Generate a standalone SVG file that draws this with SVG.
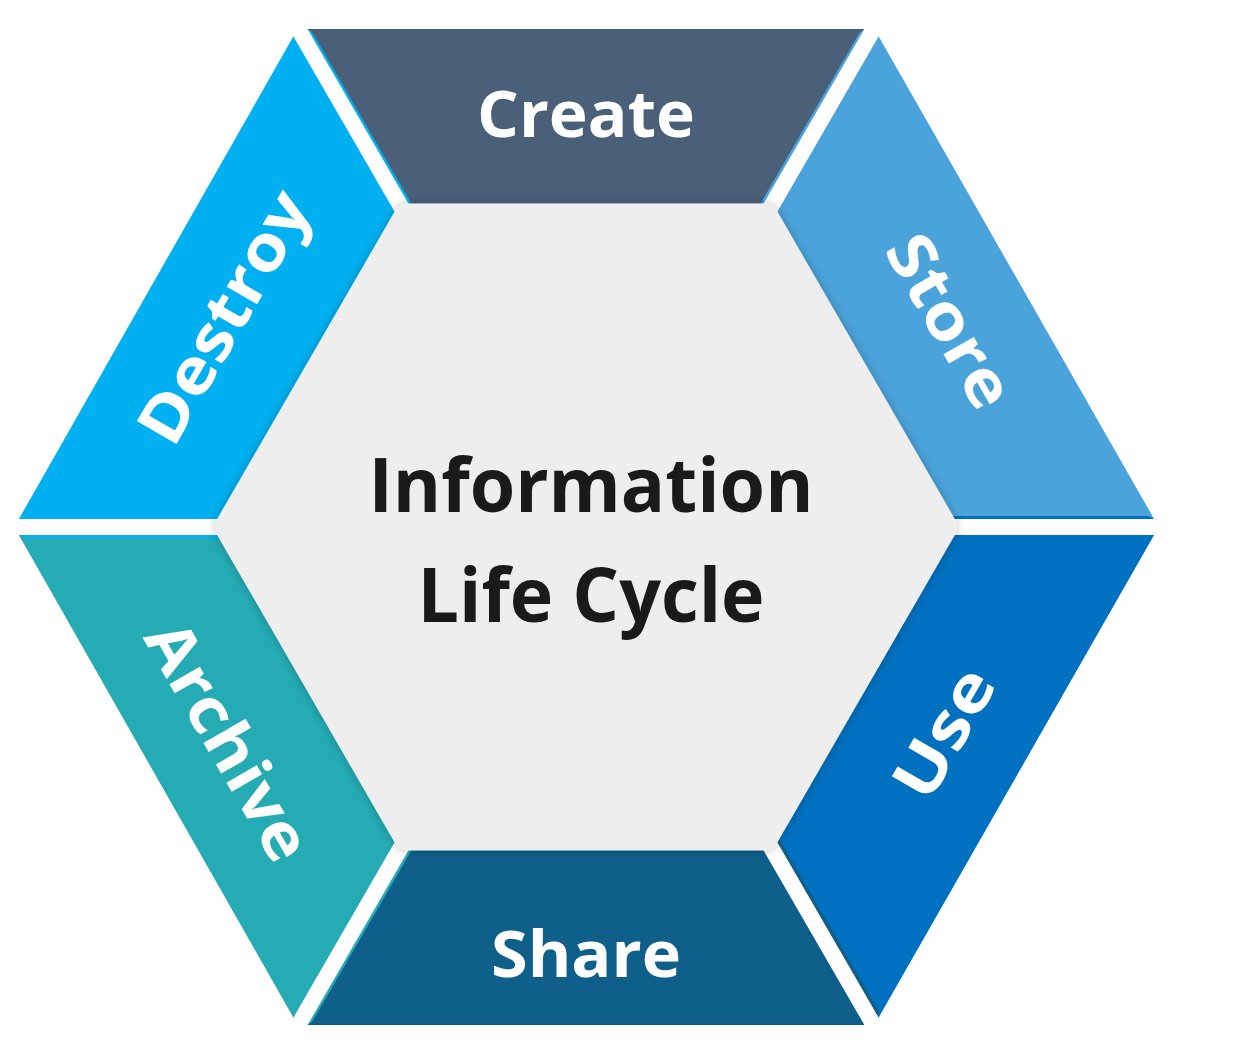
<svg xmlns="http://www.w3.org/2000/svg" width="1242" height="1054" viewBox="0 0 1242 1054">
<defs>
<style>
.seg{stroke-width:22;stroke-linejoin:round}
.lbl{font-family:"Open Sans","Liberation Sans",sans-serif;font-weight:bold;fill:#fff;font-size:64px;text-anchor:middle;dominant-baseline:central}
.ctr{font-family:"Open Sans","Liberation Sans",sans-serif;font-weight:bold;fill:#1a1a1a;font-size:76px;text-anchor:middle}
</style>
<filter id="sh" x="-20%" y="-20%" width="140%" height="140%"><feDropShadow dx="0" dy="0" stdDeviation="5" flood-color="#000" flood-opacity="0.25"/></filter>
</defs>
<rect width="1242" height="1054" fill="#fff"/>
<g id="create"><polygon class="seg" fill="#4A6079" stroke="#4A6079" points="586,527 868,40 304,40"/><text class="lbl" x="586" y="112" textLength="218" lengthAdjust="spacingAndGlyphs">Create</text></g>
<g id="store"><polygon class="seg" fill="#4AA3DA" stroke="#4AA3DA" points="586,527 1146,527 868,40"/><text class="lbl" transform="translate(952,320) rotate(60)" textLength="190" lengthAdjust="spacingAndGlyphs">Store</text></g>
<g id="use"><polygon class="seg" fill="#0070C0" stroke="#0070C0" points="586,527 868,1014 1146,527"/><text class="lbl" transform="translate(942,732) rotate(-60)" textLength="140" lengthAdjust="spacingAndGlyphs">Use</text></g>
<g id="share"><polygon class="seg" fill="#0E5F8A" stroke="#0E5F8A" points="586,527 304,1014 868,1014"/><text class="lbl" x="586" y="952" textLength="190" lengthAdjust="spacingAndGlyphs">Share</text></g>
<g id="archive"><polygon class="seg" fill="#24ABB3" stroke="#24ABB3" points="586,527 27,527 304,1014"/><text class="lbl" transform="translate(230,740) rotate(60)" textLength="265" lengthAdjust="spacingAndGlyphs">Archive</text></g>
<g id="destroy"><polygon class="seg" fill="#00B0F0" stroke="#00B0F0" points="586,527 304,40 27,527"/><text class="lbl" transform="translate(222,316) rotate(-60)" textLength="280" lengthAdjust="spacingAndGlyphs">Destroy</text></g>
<g id="connectors" stroke="#fff" stroke-width="16">
<line x1="586" y1="527" x2="1170" y2="527"/><line x1="586" y1="527" x2="2" y2="527"/>
<line x1="586" y1="527" x2="880" y2="18"/><line x1="586" y1="527" x2="292" y2="18"/>
<line x1="586" y1="527" x2="880" y2="1036"/><line x1="586" y1="527" x2="292" y2="1036"/>
</g>
<g id="center">
<polygon filter="url(#sh)" fill="#EEEEEE" stroke="#EEEEEE" stroke-width="32" stroke-linejoin="round" points="941,527 763.5,219.6 408.5,219.6 231,527 408.5,834.4 763.5,834.4"/>
<text class="ctr" x="591" y="512" textLength="445" lengthAdjust="spacingAndGlyphs">Information</text>
<text class="ctr" x="591" y="622" textLength="347" lengthAdjust="spacingAndGlyphs">Life Cycle</text>
</g>
</svg>
